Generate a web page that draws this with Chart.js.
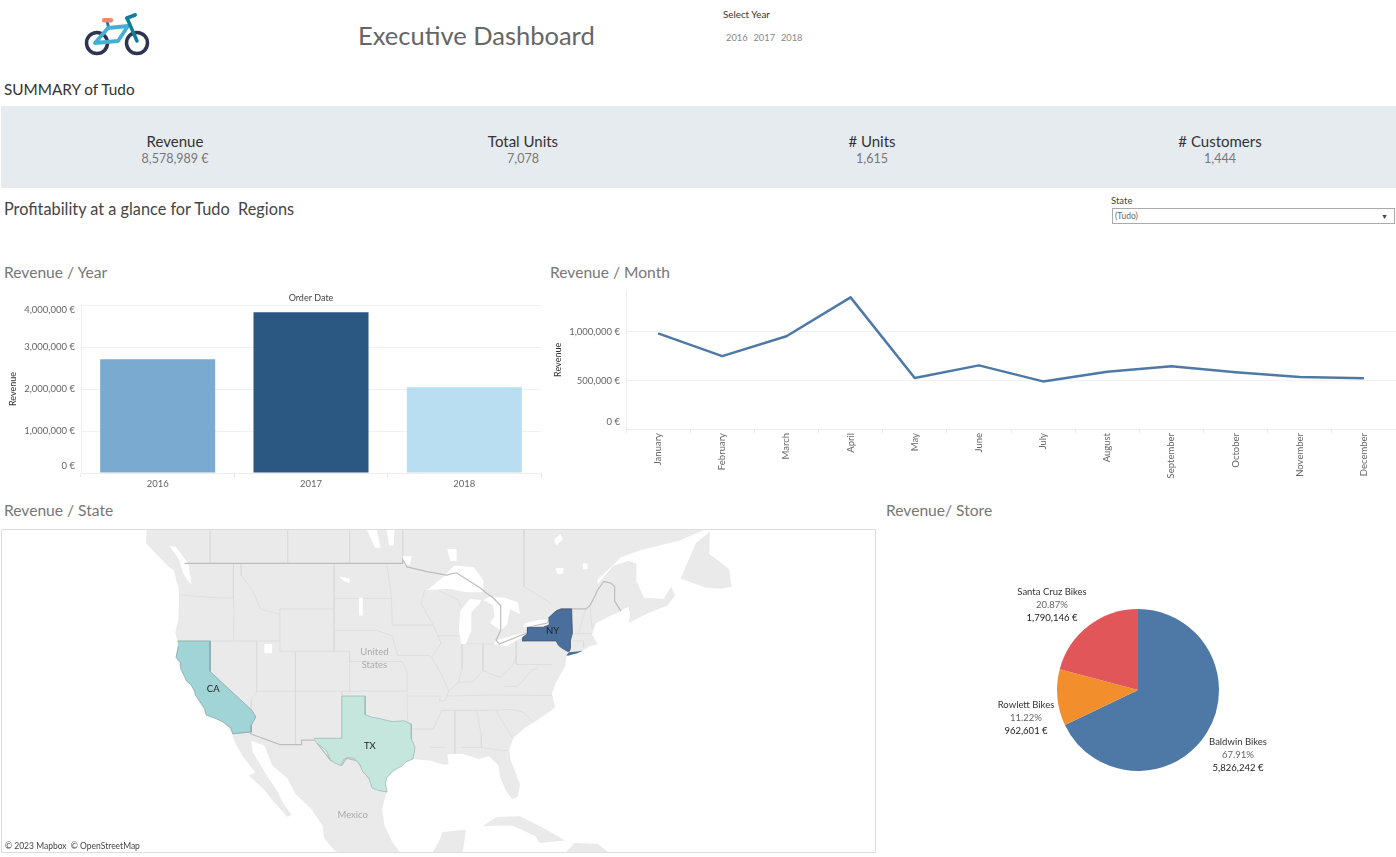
<!DOCTYPE html>
<html>
<head>
<meta charset="utf-8">
<title>Executive Dashboard</title>
<script src="https://cdn.jsdelivr.net/npm/chart.js@4"></script>
<style>
  html, body { margin: 0; padding: 0; background: #fff; overflow: hidden; }
  body { width: 1396px; height: 857px; position: relative; font-family: Lato, sans-serif; }
  canvas { position: absolute; display: block; }
  .t { position: absolute; white-space: nowrap; line-height: 1; }
  .head { font-size: 15.6px; color: #777; }
  .band { position: absolute; left: 1px; top: 106px; width: 1395px; height: 82px; background: #e6ebef; }
  .kpi { position: absolute; width: 200px; margin-left: -100px; text-align: center; }
  .kpi b { position: absolute; left: 0; right: 0; top: 26px; font-weight: 400; font-size: 15px; color: #333; }
  .kpi span { position: absolute; left: 0; right: 0; top: 45px; font-size: 12.5px; color: #777; }
  .select { position: absolute; left: 1112px; top: 208px; width: 279px; height: 14px; border: 1px solid #aaa; font-size: 8.5px; color: #666; line-height: 14px; padding-left: 2px; }
  .select i { position: absolute; right: 6px; top: 0; font-style: normal; color: #444; font-size: 7px; }
  .mapbox { position: absolute; left: 1px; top: 529px; width: 873px; height: 322px; border: 1px solid #ddd; overflow: hidden; }
  #stateMap { filter: blur(0.4px); }
</style>
</head>
<body>
<svg style="position:absolute;left:80px;top:10px" width="74" height="50" viewBox="80 10 74 50">
  <circle cx="97" cy="43" r="10.5" fill="none" stroke="#2d3450" stroke-width="3.5"/>
  <circle cx="137" cy="43" r="10.5" fill="none" stroke="#2d3450" stroke-width="3.5"/>
  <path d="M107 21 L109 29" fill="none" stroke="#0f7d9b" stroke-width="3"/>
  <path d="M108 28 L95 43 L118 41 L128 26 Z" fill="none" stroke="#45b0d3" stroke-width="3.8" stroke-linejoin="round"/>
  <path d="M127 18 L137 41" fill="none" stroke="#0f7d9b" stroke-width="3.5" stroke-linecap="round"/>
  <path d="M127 18 L135 15" fill="none" stroke="#0f7d9b" stroke-width="4" stroke-linecap="round"/>
  <rect x="102" y="18" width="11" height="4.5" rx="2" fill="#f4876b"/>
</svg>

<div class="t" style="left:358px;top:23px;font-size:25.5px;color:#666">Executive Dashboard</div>
<div class="t" style="left:723px;top:10px;font-size:9.8px;color:#333">Select Year</div>
<div class="t" style="left:726px;top:33px;font-size:9.3px;color:#888;word-spacing:3.5px">2016 2017 2018</div>

<div class="t" style="left:4px;top:82px;font-size:15.3px;color:#333">SUMMARY of Tudo</div>
<div class="band"></div>
<div id="kpis"></div>
<div class="t" style="left:4px;top:201px;font-size:16.3px;color:#444">Profitability at a glance for Tudo&nbsp; Regions</div>
<div class="t" style="left:1111px;top:196px;font-size:9.5px;color:#444">State</div>
<div class="select">(Tudo)<i>&#9660;</i></div>

<div class="t head" style="left:4px;top:265px">Revenue / Year</div>
<div class="t head" style="left:550px;top:265px">Revenue / Month</div>
<div class="t head" style="left:4px;top:503px">Revenue / State</div>
<div class="t head" style="left:886px;top:503px">Revenue/ Store</div>

<canvas id="yearChart" width="545" height="215" style="left:0;top:285px"></canvas>
<canvas id="monthChart" width="851" height="215" style="left:545px;top:279px"></canvas>
<div class="mapbox"><canvas id="stateMap" width="873" height="322" style="left:0;top:0"></canvas></div>
<canvas id="storeChart" width="516" height="320" style="left:880px;top:530px"></canvas>

<script>
// summary
const kpiNames = ['Revenue', 'Total Units', '# Units', '# Customers'];
const kpiValues = ['8,578,989 €', '7,078', '1,615', '1,444'];
const kpiCenters = [175, 523, 872, 1220];

// revenue per year
const years = ['2016', '2017', '2018'];
const yearRevenue = [2710000, 3830000, 2039000];
const yearColors = ['#7aaad0', '#2b5783', '#b9ddf1'];
const yearTicks = [0, 1000000, 2000000, 3000000, 4000000];

// revenue per month
const months = ['January', 'February', 'March', 'April', 'May', 'June', 'July', 'August', 'September', 'October', 'November', 'December'];
const monthRevenue = [985000, 750000, 955000, 1355000, 525000, 655000, 490000, 590000, 645000, 585000, 535000, 522000];
const monthTicks = [0, 500000, 1000000];

// revenue per store
const stores = ['Baldwin Bikes', 'Rowlett Bikes', 'Santa Cruz Bikes'];
const storeShare = ['67.91%', '11.22%', '20.87%'];
const storeRevenue = [5826242, 962601, 1790146];
const storeColors = ['#4e79a7', '#f28e2b', '#e15759'];

// map shapes, [lon, lat]
const northAmerica = [[-128,53],[-128.3,50.7],[-125.5,48.8],[-124.7,48.4],[-124.1,46.9],[-124,46.2],[-124.1,44],[-124.5,42.8],[-124.2,42],[-124.4,40.4],[-123.8,39.3],[-122.5,37.8],[-121.9,36.6],[-120.6,34.6],[-118.5,34],[-117.2,32.6],[-116.8,31.5],[-115.8,30],[-114.2,28.2],[-115,27.8],[-113,26.2],[-112,25],[-110,23],[-109.5,23.3],[-110.5,24.5],[-111.3,26],[-112.8,28],[-114.5,30.5],[-114.7,31.7],[-113,31.2],[-112,29],[-110,27.5],[-109,25.7],[-107,24],[-105.5,22],[-105.3,20.5],[-104,19],[-102,18],[-100,16.8],[-95,16],[-94,18.2],[-91.5,18.5],[-90.5,20],[-90,21.2],[-87,21.5],[-87.5,18],[-88,16],[-97,14],[-94,18.2],[-95.5,18.8],[-96.5,20],[-97.5,22],[-97.8,24],[-97.2,26],[-97.3,27.5],[-96,28.5],[-94.7,29.4],[-93.8,29.7],[-91.5,29.5],[-90,29.1],[-89.2,29.1],[-89.4,30.2],[-87.5,30.3],[-85.3,29.7],[-84,30],[-82.8,29],[-82.6,27.7],[-81.8,26],[-81,25.1],[-80.3,25.4],[-80,26.8],[-81.2,29.5],[-81.4,30.7],[-80.9,32],[-79.3,33.2],[-77.9,33.9],[-76.5,34.7],[-75.5,35.3],[-75.9,36.8],[-75.3,38],[-74.2,39.5],[-74,40.5],[-72,41],[-71,41.5],[-70,41.7],[-70.7,42.6],[-70.2,43.7],[-68.5,44.3],[-67,44.8],[-66,45.2],[-65.8,44.5],[-66,43.7],[-63.5,44.6],[-61,45.3],[-60,46.2],[-60.5,47],[-61.5,45.9],[-64,46],[-65,47.5],[-65,49],[-66,49.2],[-68,48.8],[-70,47.2],[-70,47.6],[-67,49.5],[-64.5,50.1],[-59.4,50.9],[-56.4,51.7],[-56,53]];
const newfoundland = [[-59.3,47.7],[-57.3,50.7],[-55.5,51.6],[-55.6,49.8],[-53,48.5],[-52.7,47],[-54,46.8],[-56,46.9]];
const cuba = [[-84.9,21.9],[-83,23],[-80,23.1],[-77,21.7],[-74.2,20.2],[-77.5,19.9],[-78,20.7],[-81,22],[-83,22]];
const hispaniola = [[-74.4,18.4],[-73,19.9],[-70,19.8],[-68.4,18.6],[-71,18],[-72,18.1]];
const lakeSuperior = [[-92,46.7],[-90,47.8],[-88.5,48.8],[-86,48.7],[-84.7,47.5],[-84.8,46.5],[-87,46.5],[-89,46.8]];
const lakeMichigan = [[-87.6,41.7],[-87,41.7],[-86.3,43],[-86.3,44.7],[-85.3,45.4],[-85,45.8],[-86.5,45.9],[-87.7,44.8],[-87.9,43]];
const lakeHuron = [[-84.7,45.8],[-83.5,45.3],[-83.3,44.3],[-83.9,43.7],[-82.5,43],[-81.7,43.5],[-81.3,45],[-80,44.5],[-80.3,45.6],[-82,46],[-84,46.1]];
const lakeErie = [[-83.4,41.7],[-81.7,41.5],[-79,42.7],[-80,42.7],[-83,42.1]];
const lakeOntario = [[-79.7,43.3],[-79,43.3],[-76.5,43.5],[-76.3,44],[-77.5,44],[-79.3,43.7]];
const smallWaters = [
  [[-99.8,51.8],[-98.5,51.8],[-98,50.3],[-98.7,50.3]],
  [[-97.3,52],[-96.2,52],[-96.3,50.5],[-96.9,50.5]],
  [[-95.2,49.6],[-94,49.6],[-94.2,48.9],[-95,48.9]],
  [[-89.4,50.2],[-88.2,50.2],[-88.2,49.2],[-89,49.2]],
  [[-103.4,47.9],[-102,47.7],[-102,47.3],[-102.8,47.5]],
  [[-100.8,46],[-100.3,46],[-100.3,44.4],[-100.8,44.4]],
  [[-113,41.7],[-112,41.7],[-112,40.8],[-113,40.8]],
  [[-125.2,50.4],[-124.5,50.4],[-122.8,49],[-122.4,47.2],[-122.8,47.4],[-123.5,48.2],[-124,49.3]],
  [[-75.4,48.6],[-74.4,48.6],[-74.5,48.1],[-75.2,48.1]],
  [[-71.9,49],[-71.3,49],[-71.3,48.5],[-71.9,48.5]],
  [[-75.6,51],[-74.8,51.4],[-74.5,51],[-75.3,50.5]]
];
const canadaBorder = [[-123.3,49],[-95.15,49],[-95.15,49.35],[-94.6,48.7],[-92,48.3],[-89.5,48],[-88.2,48.2],[-85,46.8],[-84.5,46.5],[-83.5,46],[-82.5,45.3],[-82.5,43],[-83.1,42.1],[-82.7,41.7],[-79,42.8],[-79,43.3],[-76.5,43.7],[-76,44.2],[-74.7,45],[-71.5,45],[-71,45.3],[-70.3,46.2],[-70,46.7],[-69.2,47.45],[-68.3,47.3],[-67.8,47],[-67.8,45.7],[-67,44.8]];
const mexicoBorder = [[-117.1,32.5],[-114.7,32.7],[-114.8,32.5],[-111,31.3],[-108.2,31.3],[-108.2,31.8],[-106.5,31.8],[-104.5,29.6],[-103,29],[-102.4,29.8],[-101,29.5],[-99.5,27.5],[-97.2,25.9]];
const stateLines = [
  [[-124,46.25],[-123,46.2],[-119,46],[-117,46]],
  [[-117,49],[-117,46],[-116.9,44.5],[-117,42]],
  [[-120,42],[-111,42]],
  [[-116,49],[-116,48],[-114.5,46.6],[-113.5,45],[-111,44.5]],
  [[-111,45],[-104,45],[-104,41],[-111,41],[-111,45]],
  [[-104,49],[-104,45]],
  [[-104,45.95],[-96.6,45.95]],
  [[-104,43],[-98.5,43],[-96.5,42.5]],
  [[-97.2,49],[-96.6,46],[-96.5,43.5],[-91.2,43.5]],
  [[-104,41],[-102,41],[-102,40],[-95.3,40]],
  [[-109,41],[-109,37],[-102,37],[-102,40]],
  [[-102,37],[-94.6,37],[-94.6,39.1],[-95.3,40]],
  [[-94.6,37],[-94.5,33.6]],
  [[-109,37],[-109,31.3]],
  [[-103,37],[-103,32]],
  [[-114,42],[-114,37],[-109,37]],
  [[-114,37],[-114.7,36],[-114.7,34.9]],
  [[-95.8,40.6],[-91.7,40.6],[-91.4,40.4],[-90.2,38.8],[-89.2,37],[-89.7,36],[-90.4,36],[-90.3,36.5],[-94.6,36.5]],
  [[-96.5,42.5],[-95.8,40.6]],
  [[-91.2,43.5],[-90.2,41.8],[-91.4,40.4]],
  [[-92.3,46.7],[-92.8,45.5],[-91.2,43.5]],
  [[-90.6,42.5],[-87.8,42.5]],
  [[-90.4,46.6],[-88,45.8],[-87.6,45.1]],
  [[-87.5,41.7],[-87.5,39.3],[-88,37.9]],
  [[-84.8,41.7],[-84.8,39.1]],
  [[-87,41.75],[-83.4,41.7]],
  [[-89.2,37],[-88,37.9],[-86,38],[-84.8,39.1],[-82.6,38.4],[-81,39.6],[-80.5,40.6]],
  [[-80.5,42],[-80.5,39.7],[-75.8,39.7]],
  [[-94,33],[-91.2,33],[-90.1,35]],
  [[-91.6,31],[-89.7,31]],
  [[-88.4,35],[-88.4,30.3]],
  [[-90.1,35],[-84.3,35],[-81,35.1],[-79.6,34.8],[-78.5,33.9]],
  [[-89.5,36.5],[-83.7,36.6],[-81.7,36.6],[-75.9,36.55]],
  [[-85.6,35],[-85,32.3],[-85,31]],
  [[-87.6,31],[-85,31],[-82.2,30.6],[-81.5,30.7]],
  [[-83.1,35],[-81,32]],
  [[-82,37.5],[-80.3,37.5],[-78.4,39.2],[-77.7,39.3]],
  [[-71.5,45],[-72.5,42.7]],
  [[-73.5,42.7],[-70.8,42.7]],
  [[-73.5,42],[-71.8,42],[-71.8,41.4]],
  [[-71,45.3],[-70.7,43.1]],
  [[-120,53],[-120,49]],
  [[-110,53],[-110,49]],
  [[-102,53],[-102,49]],
  [[-95.15,53],[-95.15,49.3]],
  [[-79.5,53],[-79.5,47],[-76,45.5]]
];
const california = [[-124.2,42],[-120,42],[-120,39],[-114.6,35],[-114.1,34.3],[-114.7,33.4],[-114.7,32.7],[-117.1,32.5],[-117.3,33.1],[-118.4,33.8],[-119.2,34.1],[-120.5,34.5],[-120.7,35.2],[-121.9,36.6],[-122,37],[-122.5,37.7],[-123,38],[-123.8,39.3],[-123.8,39.9],[-124.4,40.4],[-124.1,41.5]];
const texas = [[-106.6,32],[-103.06,32],[-103,36.5],[-100,36.5],[-100,34.56],[-99.2,34.3],[-98,34.1],[-96.5,33.8],[-95,33.9],[-94.05,33.55],[-94.05,33],[-94,31.9],[-93.55,31],[-93.7,30.3],[-93.85,29.7],[-94.7,29.4],[-95.3,28.9],[-96.4,28.4],[-97.2,27.6],[-97.4,26.9],[-97.15,25.96],[-98.2,26.1],[-99.1,26.4],[-99.5,27.5],[-100.3,28.3],[-100.7,29.1],[-101.4,29.77],[-102.3,29.88],[-102.7,29.7],[-103.15,28.98],[-104,29.3],[-104.5,29.65],[-105,30.65],[-106.2,31.45]];
const newYork = [[-79.76,42],[-75.35,42],[-75.07,41.6],[-74.7,41.36],[-73.9,41],[-73.65,41],[-73.5,41.3],[-73.5,42.05],[-73.25,42.75],[-73.35,45],[-74.7,45],[-75.3,44.85],[-76.3,44.2],[-76.2,43.55],[-77,43.3],[-79.05,43.27],[-79.05,42.7],[-79.76,42.27]];
const longIsland = [[-74.05,40.6],[-73.75,40.6],[-72.6,40.8],[-71.9,41.05],[-72.6,40.98],[-73.7,40.9]];
const mapLabels = [
  ['CA', -119.6, 37.2, '#222'],
  ['TX', -99.4, 31.2, '#222'],
  ['NY', -75.8, 43, '#222'],
  ['United', -98.8, 40.9, '#aaa'],
  ['States', -98.8, 39.7, '#aaa'],
  ['Mexico', -101.6, 23.2, '#aaa']
];

Chart.defaults.font.family = 'Lato, sans-serif';
Chart.defaults.animation = false;
Chart.defaults.responsive = false;
Chart.defaults.plugins.legend.display = false;
Chart.defaults.plugins.tooltip.enabled = false;

const GRID = '#f1f1f1';
const euro = v => Number(v).toLocaleString('en-US') + ' €';

document.getElementById('kpis').innerHTML = kpiNames.map((n, i) =>
  `<div class="kpi" style="left:${kpiCenters[i]}px;top:106px"><b>${n}</b><span>${kpiValues[i]}</span></div>`).join('');

// tableau pulls the outer tick labels inside the plot, chart.js has no option for it
const tickNudge = {
  id: 'tickNudge',
  beforeDraw(chart, args, opts) {
    const scale = chart.scales.y;
    if (!scale || !opts.shift) return;
    scale.getLabelItems().forEach((item, i) => {
      if (item.nudged) return;
      item.options.translation[1] += opts.shift[scale.ticks[i].value] || 0;
      item.nudged = true;
    });
  }
};

function yAxis(max, tickValues) {
  return {
    min: 0, max,
    afterFit(s) { s.width = 81; },
    afterBuildTicks(s) { s.ticks = tickValues.map(value => ({ value })); },
    border: { color: '#eeeeee' },
    grid: { color: GRID, drawTicks: false },
    ticks: { padding: 6, color: '#666', font: { size: 9.5 }, callback: euro },
    title: { display: true, text: 'Revenue', color: '#333', font: { size: 9 }, padding: { top: 8, bottom: 0 } }
  };
}

new Chart(document.getElementById('yearChart'), {
  type: 'bar',
  plugins: [tickNudge],
  data: {
    labels: years,
    datasets: [{ data: yearRevenue, backgroundColor: yearColors, categoryPercentage: 1, barPercentage: 0.75 }]
  },
  options: {
    layout: { padding: { right: 4 } },
    plugins: { tickNudge: { shift: { 0: -7, 4000000: 5 } } },
    scales: {
      y: yAxis(4000000, yearTicks),
      x: {
        afterFit(s) { s.height = 27; },
        border: { color: '#eeeeee' },
        grid: { drawOnChartArea: false, color: '#e8e8e8', tickLength: 4, offset: true },
        ticks: { color: '#666', font: { size: 9.5 }, padding: 1, maxRotation: 0 }
      },
      x2: {
        type: 'category', axis: 'x', position: 'top', labels: years,
        afterFit(s) { s.height = 20; },
        border: { display: false },
        grid: { display: false },
        ticks: { display: false },
        title: { display: true, text: 'Order Date', color: '#444', font: { size: 9 }, padding: { top: 8, bottom: 0 } }
      }
    }
  }
});

new Chart(document.getElementById('monthChart'), {
  type: 'line',
  plugins: [tickNudge],
  data: {
    labels: months,
    datasets: [{ data: monthRevenue, borderColor: '#4e79a7', borderWidth: 2.5, pointRadius: 0, tension: 0, borderJoinStyle: 'round' }]
  },
  options: {
    layout: { padding: { top: 10 } },
    plugins: { tickNudge: { shift: { 0: -7 } } },
    scales: {
      y: yAxis(1424000, monthTicks),
      x: {
        offset: true,
        afterFit(s) { s.height = 65; },
        border: { color: '#eeeeee' },
        grid: { drawOnChartArea: false, color: '#e8e8e8', tickLength: 4, offset: true },
        ticks: { color: '#666', font: { size: 9.5 }, padding: 0, minRotation: 90, maxRotation: 90, autoSkip: false }
      }
    }
  }
});

new Chart(document.getElementById('storeChart'), {
  type: 'pie',
  plugins: [{
    id: 'storeLabels',
    afterDraw(chart) {
      const ctx = chart.ctx;
      // label centre relative to the pie centre
      const offsets = [[100, 65], [-112, 28], [-86, -85]];
      const arcs = chart.getDatasetMeta(0).data;
      ctx.save();
      ctx.textAlign = 'center';
      ctx.textBaseline = 'middle';
      ctx.font = '9.5px Lato, sans-serif';
      arcs.forEach((arc, i) => {
        const x = arc.x + offsets[i][0], y = arc.y + offsets[i][1];
        ctx.fillStyle = '#333';
        ctx.fillText(stores[i], x, y - 13);
        ctx.fillStyle = '#666';
        ctx.fillText(storeShare[i], x, y);
        ctx.fillStyle = '#222';
        ctx.fillText(euro(storeRevenue[i]), x, y + 13);
      });
      ctx.restore();
    }
  }],
  data: {
    labels: stores,
    datasets: [{ data: storeRevenue, backgroundColor: storeColors, borderWidth: 0, radius: 81 }]
  }
});

// web mercator so the axis stays linear
const merc = lat => Math.log(Math.tan(Math.PI / 4 + lat * Math.PI / 360));
const pts = shape => shape.map(([lon, lat]) => ({ x: lon, y: merc(lat) }));
const area = (shape, color, edge) => ({
  data: pts(shape), fill: 'shape', backgroundColor: color, borderColor: edge || color,
  borderWidth: edge ? 0.8 : 0, pointRadius: 0, showLine: true
});
const stroke = (shape, color, w) => ({
  data: pts(shape), fill: false, borderColor: color, borderWidth: w, pointRadius: 0, showLine: true
});

const LAND = '#eaeaea';
const WATER = '#fff';
const layers = [
  area(northAmerica, LAND), area(newfoundland, LAND), area(cuba, LAND), area(hispaniola, LAND),
  ...stateLines.map(s => stroke(s, '#dadada', 0.7)),
  area(lakeSuperior, WATER), area(lakeMichigan, WATER), area(lakeHuron, WATER), area(lakeErie, WATER), area(lakeOntario, WATER),
  ...smallWaters.map(s => area(s, WATER)),
  stroke(canadaBorder, '#bdbdbd', 1.2), stroke(mexicoBorder, '#bdbdbd', 1.2),
  area(california, '#a1d4d6', '#8aa'), area(texas, '#c5e6dd', '#9bb'), area(newYork, '#4a6f9c', '#456'), area(longIsland, '#4a6f9c')
];

new Chart(document.getElementById('stateMap'), {
  type: 'scatter',
  plugins: [{
    id: 'mapText',
    afterDraw(chart) {
      const { ctx, scales: { x, y } } = chart;
      ctx.save();
      ctx.textAlign = 'center';
      ctx.textBaseline = 'middle';
      ctx.font = '9.5px Lato, sans-serif';
      mapLabels.forEach(([text, lon, lat, color]) => {
        ctx.fillStyle = color;
        ctx.fillText(text, x.getPixelForValue(lon), y.getPixelForValue(merc(lat)));
      });
      ctx.fillStyle = 'rgba(255,255,255,0.8)';
      ctx.fillRect(0, 309, 142, 13);
      ctx.fillStyle = '#444';
      ctx.textAlign = 'left';
      ctx.font = '8.5px Lato, sans-serif';
      ctx.fillText('© 2023 Mapbox  © OpenStreetMap', 3, 316);
      ctx.restore();
    }
  }],
  data: { datasets: layers.reverse() },
  options: {
    layout: { padding: 0 },
    scales: {
      x: { display: false, type: 'linear', min: -146.86, max: -34.2 },
      y: { display: false, type: 'linear', min: 0.334, max: 1.059 }
    }
  }
});
</script>
</body>
</html>
